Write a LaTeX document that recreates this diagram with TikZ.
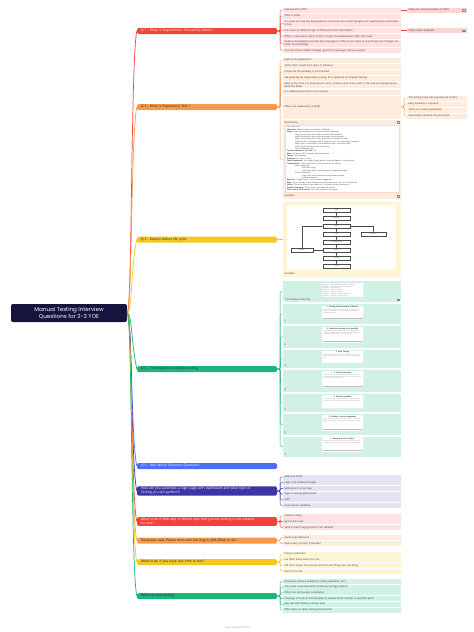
\documentclass[tikz,border=0pt]{standalone}
\usepackage{fontspec}
\setmainfont{Open Sans}
\newfontfamily\headfont{Poppins}
\usepackage{tikz}
\usetikzlibrary{arrows.meta, positioning, shapes.misc}
\usepackage{xcolor}
\definecolor{navy}{HTML}{15143C}
\definecolor{qred}{HTML}{F0443A}
\definecolor{qorange}{HTML}{F59B4E}
\definecolor{qyellow}{HTML}{F3C823}
\definecolor{qgreen}{HTML}{1DB67A}
\definecolor{qblue}{HTML}{4C6EF5}
\definecolor{qindigo}{HTML}{3B35A6}
\definecolor{redl}{HTML}{FDE2E1}
\definecolor{redm}{HTML}{FBD5D4}
\definecolor{orangel}{HTML}{FDEBDD}
\definecolor{yellowl}{HTML}{FDF5D6}
\definecolor{greenl}{HTML}{D2F1E5}
\definecolor{indigol}{HTML}{E4E3F2}
\definecolor{ink}{HTML}{3A3A3A}
\newcommand{\kidfont}{\fontsize{2.5}{3}\selectfont}
\newcommand{\notefont}{\fontsize{1.85}{2.42}\selectfont}
\newcommand{\cardfont}{\fontsize{1.25}{1.6}\selectfont}

\begin{document}
\begin{tikzpicture}[
    x=1pt, y=-1pt,
    every node/.style={inner sep=0pt},
    root/.style={rectangle, rounded corners=2pt, fill=navy, text=white, align=center, minimum width=116pt, minimum height=18pt, font=\headfont\fontsize{5.6}{7.2}\selectfont},
    qnode/.style={rectangle, rounded corners=1.5pt, fill=#1, text=black!85, text width=132pt, inner xsep=4pt, inner ysep=1pt, minimum height=6pt, align=left, font=\fontsize{3.3}{4.1}\selectfont},
    leaf/.style={rectangle, fill=#1, text=ink, text width=115pt, inner xsep=1.5pt, inner ysep=0.9pt, minimum height=5pt, align=left, font=\kidfont},
    sub/.style={rectangle, fill=#1, text=ink, text width=57pt, inner xsep=1.5pt, inner ysep=0.9pt, minimum height=5pt, align=left, font=\kidfont},
    icon/.style={rectangle, draw=black!45, line width=0.2pt, minimum width=2.2pt, minimum height=1.8pt},
    tag/.style={anchor=west, text=ink, font=\kidfont},
    conn/.style={draw=#1, line width=0.7pt},
    br/.style={draw=#1, line width=0.45pt, rounded corners=1.2pt},
    notebox/.style={rectangle, draw=qorange!35, line width=0.3pt, fill=white, text width=110pt, inner xsep=2pt, inner ysep=1.2pt, align=left, text=ink, font=\notefont},
    flowbox/.style={rectangle, draw=black!70, line width=0.25pt, fill=white, minimum width=27pt, minimum height=4pt, font=\fontsize{1.6}{2}\selectfont, text=qgreen!60!black},
    flowarr/.style={draw=black!70, line width=0.3pt, -{Stealth[length=1.1pt, width=1pt]}},
    card/.style={rectangle, draw=black!15, line width=0.2pt, fill=white, rounded corners=0.6pt, minimum width=42pt},
    cardtitle/.style={font=\bfseries\fontsize{1.7}{2}\selectfont, text=black!80, align=center, text width=38pt},
    cardtext/.style={font=\cardfont, text=black!55, align=left, text width=38pt},
    cardbar/.style={rectangle, fill=black!25, minimum width=40pt, minimum height=1pt}
  ]
  \useasboundingbox (0,0) rectangle (474,632);
  \fill[white] (0,0) rectangle (474,632);

  \node[root] (root) at (69,313) {Manual Testing Interview\\Questions for 2-3 YOE};

  \node[qnode=qred, text=white] (q1) at (207,31) {Q 1 - What is Requirement Traceability Matrix ?};
  \node[qnode=qorange] (q2) at (207,107) {Q 2 - What is Exploratory Test ?};
  \node[qnode=qyellow] (q3) at (207,239.5) {Q 3 - Explain Defect life cycle.};
  \node[qnode=qgreen] (q4) at (207,369) {Q 4 - 7 principles of software testing};
  \node[qnode=qblue, text=white] (q5) at (207,466) {Q 5 - Real World Scenarios Questions.};
  \node[qnode=qindigo, text=white] (q6) at (207,491) {How will you automate a login page with dashboard and what type of\\Testing you will perform?};
  \node[qnode=qred, text=white] (q7) at (207,521.5) {What to do if Web app or Mobile App that you are testing is not suitable\\for test?};
  \node[qnode=qorange] (q8) at (207,540.5) {Developer said, Please don't add this bug to JIRA What to do?};
  \node[qnode=qyellow] (q9) at (207,562) {What to do if you have less time to test?};
  \node[qnode=qgreen] (q10) at (207,596) {When to stop testing};

  % Q 1
  \node[leaf=redl] (a1) at (342,10) {Explained the RTM};
  \node[leaf=redl] (a2) at (342,16) {What is RTM?};
  \node[leaf=redl] (a3) at (342,23.5) {It is used to Track the Requirements and check the current progress of requirements and defect id too};
  \node[leaf=redl] (a4) at (342,30.5) {Can draw on different type of RTM and more information};
  \node[leaf=redl] (a5) at (342,36.5) {RTM is a document which tracks or maps the Requirement with Test cases};
  \node[leaf=redl] (a6) at (342,43.5) {Helps in knowing/ensure that test coverage is 100\% or test cases to avoid bugs and changes, improve Test Coverage};
  \node[leaf=redl] (a7) at (342,50.5) {You can prevent defect leakage, good test coverage, improve quality};
  \node[sub=redm] (s1) at (437,10) {Steps you should prepare an RTM};
  \node[sub=redm] (s2) at (437,30.5) {Steps create template};
  \node[icon] (s1i) at (463.5,10) {};
  \node[icon] (s2i) at (463.5,30.5) {};

  % Q 2
  \node[leaf=orangel] (b1) at (342,60) {Explore the Application};
  \node[leaf=orangel] (b2) at (342,66) {Tester don't create Test cases in Advance};
  \node[leaf=orangel] (b3) at (342,72) {Check the functionality is not Planned};
  \node[leaf=orangel] (b4) at (342,78) {We generally do Exploratory testing, ET is opposite of Scripted Testing};
  \node[leaf=orangel] (b5) at (342,85) {Most of the time it is time bound. Once, if there some time is left in the end and people know: Read the Flows};
  \node[leaf=orangel] (b6) at (342,92) {It is skilled based and is not scripted};
  \node[leaf=orangel, minimum height=23pt] (b7) at (342,107) {When use exploratory testing?};
  \node[sub=orangel] (t1) at (437,98) {The testing team has experienced testers};
  \node[sub=orangel] (t2) at (437,104) {Early iteration is required};
  \node[sub=orangel] (t3) at (437,110) {There is a critical application};
  \node[sub=orangel] (t4) at (437,116) {New testers entered into the team};
  \node[leaf=orangel, minimum height=79.5pt] (b8) at (342,159.25) {};
  \node[tag] (rm) at (284.5,122.3) {Read more};
  \node[icon] (rmi) at (398,122.3) {};
  \node[notebox, anchor=north] (note) at (342,125) {Test Charter 01\\
    \textbf{Objective:} Explore Login functionality of Website\\
    \textbf{Scope:} Login functionality with valid and invalid credentials\\
    \hspace*{8pt}Login functionality with valid username and password\\
    \hspace*{8pt}Login functionality with invalid username and password\\
    \hspace*{8pt}Login functionality with blank username and password fields\\
    \hspace*{8pt}Verify the error messages and UI alignment for the invalid login attempts\\
    \hspace*{8pt}Verify user is redirected to the dashboard after successful login\\
    \hspace*{8pt}Verify `Forgot Password' link is working\\
    \hspace*{8pt}Verify `Remember me'\\
    \textbf{Test Environment/ Test URL:} QA\\
    \textbf{Date:} 10 March 2023, Tuesday, Morning session\\
    \textbf{Tester:} Test Engineer 1\\
    \textbf{Duration:} 60 mins / 1 hour\\
    \textbf{Task Breakdown:} Test Design, Bug Reports, Bug Investigation, Session Setup\\
    \textbf{Testing Notes:} Tests conducted in this session are as follows:\\
    \hspace*{8pt}Valid credentials:\\
    \hspace*{14pt}\textbullet\ Valid user login\\
    \hspace*{14pt}\textbullet\ Valid user logs in and navigates to dashboard page\\
    \hspace*{8pt}Invalid credentials:\\
    \hspace*{14pt}\textbullet\ Login with blank username and password fields\\
    \hspace*{14pt}\textbullet\ Invalid password\\
    \textbf{Bug Info:} 2 bugs found, 1 enhancement suggested\\
    \textbf{Bugs:} Error message is not displayed for blank password, user is not redirected\\
    \textbf{Issues:} Test environment was down for 10 minutes during the session\\
    \textbf{Session Summary:} All the main login flows are tested\\
    \textbf{Test Charter Verification:} Test Lead reviewed the charter};
  \node[tag] (ex2) at (284.5,196) {Example};
  \node[icon] (ex2i) at (398,196) {};

  % Q 3
  \node[leaf=yellowl, minimum height=75pt] (c1) at (342,239.5) {};
  \node[rectangle, fill=white, minimum width=109pt, minimum height=64pt] (pan) at (341,237) {};
  \node[flowbox] (fl1) at (336.5,210) {New};
  \node[flowbox] (fl2) at (336.5,218) {Assigned};
  \node[flowbox] (fl3) at (336.5,226) {Open};
  \node[flowbox] (fl4) at (336.5,234) {Fixed};
  \node[flowbox] (fl5) at (336.5,242) {Pending Retest};
  \node[flowbox] (fl6) at (336.5,250) {Retest};
  \node[flowbox] (fl7) at (336.5,258) {Verified};
  \node[flowbox] (fl8) at (336.5,266) {Closed};
  \node[flowbox, minimum width=25pt] (flr) at (373.5,234) {Rejected};
  \node[flowbox, minimum width=22pt] (fll) at (302,250) {Reopen};
  \foreach \a/\b in {fl1/fl2, fl2/fl3, fl3/fl4, fl4/fl5, fl5/fl6, fl6/fl7, fl7/fl8}
    \draw[flowarr] (\a.south) -- (\b.north);
  \draw[flowarr] (fl3.east) -| (flr.north);
  \draw[flowarr] (fl6.west) -- (fll.east);
  \draw[flowarr] (fll.north) |- (fl3.west);
  \node[tag] (ex3) at (284.5,273.5) {Example};

  % Q 4
  \node[leaf=greenl, minimum height=21pt] (d1) at (342,291.5) {};
  \node[leaf=greenl, minimum height=20pt] (d2) at (342,314) {};
  \node[leaf=greenl, minimum height=21.5pt] (d3) at (342,336.75) {};
  \node[leaf=greenl, minimum height=18.5pt] (d4) at (342,358.75) {};
  \node[leaf=greenl, minimum height=22pt] (d5) at (342,381) {};
  \node[leaf=greenl, minimum height=18pt] (d6) at (342,403) {};
  \node[leaf=greenl, minimum height=21pt] (d7) at (342,424.5) {};
  \node[leaf=greenl, minimum height=20.5pt] (d8) at (342,446.75) {};

  \node[card, minimum height=14pt] (k1) at (342.5,290) {};
  \node[cardtext, text width=40pt, font=\fontsize{1.45}{1.85}\selectfont, below=1pt of k1.north] (kx1) {Principle 1 - Testing shows presence of defects\\Principle 2 - Exhaustive testing is impossible\\Principle 3 - Early Testing\\Principle 4 - Defect Clustering\\Principle 5 - Pesticide Paradox\\Principle 6 - Testing is context dependent\\Principle 7 - Absence of errors fallacy};
  \node[tag] (dl1) at (284.5,299.5) {7 principles of Testing};
  \node[icon] (dl1i) at (398,299.5) {};

  \node[card, minimum height=14pt] (k2) at (342.5,312.5) {};
  \node[cardtitle, below=1pt of k2.north] (kt2) {1. Testing shows presence of defects};
  \node[cardtext, below=0.6pt of kt2] (kx2) {Testing can show that defects are present, but cannot prove that there are no defects. Testing reduces the probability of undiscovered defects.};
  \node[cardbar, above=0.5pt of k2.south] (kb2) {};

  \node[card, minimum height=16pt] (k3) at (342.5,335) {};
  \node[cardtitle, below=1pt of k3.north] (kt3) {2. Exhaustive testing is not possible};
  \node[cardtext, below=0.6pt of kt3] (kx3) {Testing everything (all combinations of inputs and preconditions) is not feasible except for trivial cases. Risk analysis and priorities should be used to focus testing efforts.};
  \node[cardbar, above=0.5pt of k3.south] (kb3) {};

  \node[card, minimum height=12.5pt] (k4) at (342.5,356.75) {};
  \node[cardtitle, below=1pt of k4.north] (kt4) {3. Early Testing};
  \node[cardtext, below=0.6pt of kt4] (kx4) {Testing activities should start as early as possible in the software development life cycle and be focused on defined objectives.};

  \node[card, minimum height=16.5pt] (k5) at (342.5,379.25) {};
  \node[cardtitle, below=1pt of k5.north] (kt5) {4. Defect clustering};
  \node[cardtext, below=0.6pt of kt5] (kx5) {A small number of modules usually contains most of the defects discovered during pre-release testing, or is responsible for most of the operational failures.};
  \node[cardbar, above=0.5pt of k5.south] (kb5) {};

  \node[card, minimum height=13.5pt] (k6) at (342.5,401.75) {};
  \node[cardtitle, below=1pt of k6.north] (kt6) {5. Pesticide paradox};
  \node[cardtext, below=0.6pt of kt6] (kx6) {If the same tests are repeated over and over again, eventually the same set of test cases will no longer find any new defects.};

  \node[card, minimum height=16pt] (k7) at (342.5,423) {};
  \node[cardtitle, below=1pt of k7.north] (kt7) {6. Testing is context dependent};
  \node[cardtext, below=0.6pt of kt7] (kx7) {Testing is done differently in different contexts. For example, safety-critical software is tested differently from an e-commerce site.};
  \node[cardbar, above=0.5pt of k7.south] (kb7) {};

  \node[card, minimum height=15pt] (k8) at (342.5,444.5) {};
  \node[cardtitle, below=1pt of k8.north] (kt8) {7. Absence of errors fallacy};
  \node[cardtext, below=0.6pt of kt8] (kx8) {Finding and fixing defects does not help if the system built is unusable and does not fulfill the users' needs and expectations.};
  \node[cardbar, above=0.5pt of k8.south] (kb8) {};

  \node[tag] (dl2) at (284.5,321.5) {1};
  \node[tag] (dl3) at (284.5,345) {2};
  \node[tag] (dl4) at (284.5,365.5) {3};
  \node[tag] (dl5) at (284.5,389.5) {4};
  \node[tag] (dl6) at (284.5,409.5) {5};
  \node[tag] (dl7) at (284.5,432.5) {6};
  \node[tag] (dl8) at (284.5,454.5) {7};

  % scenario questions
  \node[leaf=indigol] (e1) at (342,477) {Selenium POM};
  \node[leaf=indigol] (e2) at (342,482.7) {Login and dashboard page};
  \node[leaf=indigol] (e3) at (342,488.4) {Estimation in man days};
  \node[leaf=indigol] (e4) at (342,494.1) {Type of testing performed?};
  \node[leaf=indigol] (e5) at (342,499.8) {UAT?};
  \node[leaf=indigol] (e6) at (342,505.5) {Don't ask on deadline};

  \node[leaf=redl] (f1) at (342,516) {Smoke Testing};
  \node[leaf=redl] (f2) at (342,521.7) {Ignore the build};
  \node[leaf=redl] (f3) at (342,527.4) {Send a report saying build is not testable};

  \node[leaf=orangel] (g1) at (342,537.9) {Avoid unprofessional};
  \node[leaf=orangel] (g2) at (342,543.6) {Raise every concern if possible};

  \node[leaf=yellowl] (h1) at (342,554) {Proper estimation};
  \node[leaf=yellowl] (h2) at (342,559.7) {Let them know about the risk};
  \node[leaf=yellowl] (h3) at (342,565.4) {Tell them about the process and risk and things you are doing};
  \node[leaf=yellowl] (h4) at (342,571.1) {Ask for the risk};

  \node[leaf=greenl] (m1) at (342,581.5) {Deadlines (release deadlines, testing deadlines, etc.)};
  \node[leaf=greenl] (m2) at (342,587.2) {Test cases completed with certain percentage passed};
  \node[leaf=greenl] (m3) at (342,592.9) {When the test budget is depleted};
  \node[leaf=greenl] (m4) at (342,598.6) {Coverage of code or functionality or requirements reaches a specified point};
  \node[leaf=greenl] (m5) at (342,604.3) {Bug rate falls below a certain level};
  \node[leaf=greenl] (m6) at (342,610) {When Beta or alpha testing period ends};

  \node[font=\fontsize{2.6}{3}\selectfont, text=black!35] (foot) at (237.5,628) {Exported with Xmind};

  % root branches
  \foreach \q/\c in {q1/qred, q2/qorange, q3/qyellow}
    \draw[conn=\c] (root.east) .. controls +(5,0) and +(-6,28) .. (\q.west);
  \foreach \q/\c in {q4/qgreen, q5/qblue, q6/qindigo, q7/qred, q8/qorange, q9/qyellow, q10/qgreen}
    \draw[conn=\c] (root.east) .. controls +(5,0) and +(-6,-28) .. (\q.west);

  % child brackets
  \foreach \k in {a1,a2,a3,a4,a5,a6,a7}
    \draw[br=qred] (q1.east) -- ++(3,0) |- (\k.west);
  \draw[br=qred] (a1.east) -- (s1.west);
  \draw[br=qred] (a4.east) -- (s2.west);
  \foreach \k in {b1,b2,b3,b4,b5,b6,b7,b8}
    \draw[br=qorange] (q2.east) -- ++(3,0) |- (\k.west);
  \foreach \k in {t1,t2,t3,t4}
    \draw[br=qorange] (b7.east) -- ++(3,0) |- (\k.west);
  \draw[br=qyellow] (q3.east) -- (c1.west);
  \foreach \k in {d1,d2,d3,d4,d5,d6,d7,d8}
    \draw[br=qgreen] (q4.east) -- ++(3,0) |- (\k.west);
  \foreach \k in {e1,e2,e3,e4,e5,e6}
    \draw[br=qindigo] (q6.east) -- ++(3,0) |- (\k.west);
  \foreach \k in {f1,f2,f3}
    \draw[br=qred] (q7.east) -- ++(3,0) |- (\k.west);
  \foreach \k in {g1,g2}
    \draw[br=qorange] (q8.east) -- ++(3,0) |- (\k.west);
  \foreach \k in {h1,h2,h3,h4}
    \draw[br=qyellow] (q9.east) -- ++(3,0) |- (\k.west);
  \foreach \k in {m1,m2,m3,m4,m5,m6}
    \draw[br=qgreen] (q10.east) -- ++(3,0) |- (\k.west);

\end{tikzpicture}
\end{document}
